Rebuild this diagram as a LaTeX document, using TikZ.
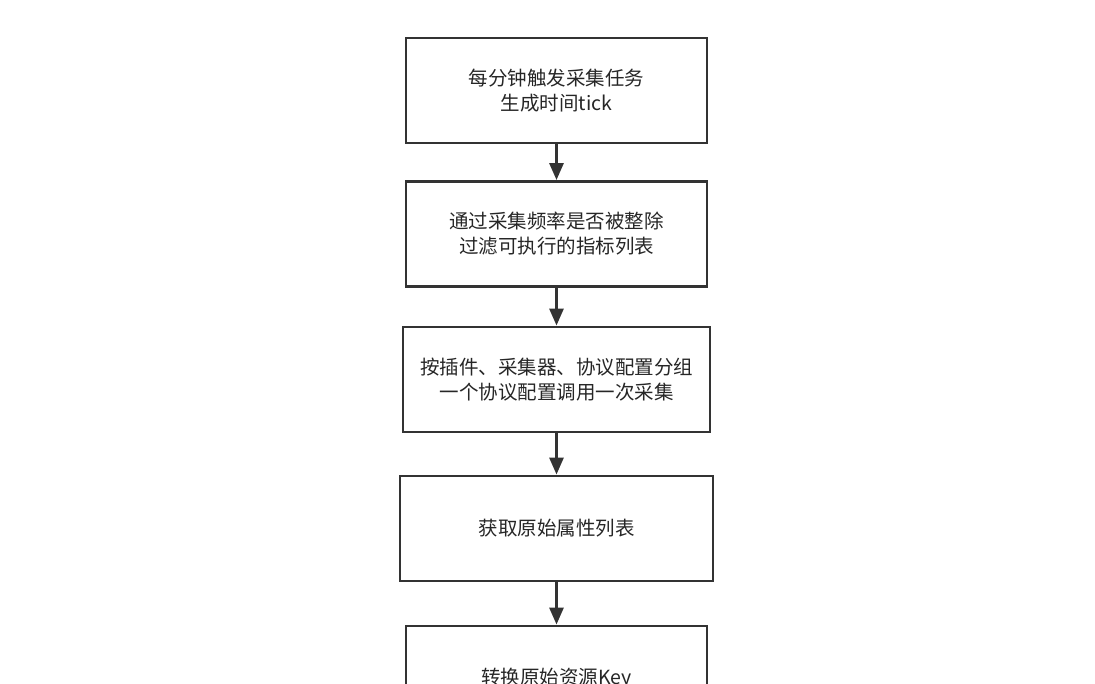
\documentclass[tikz,border=0pt]{standalone}
\usepackage{fontspec}
\setmainfont{Noto Sans CJK SC}
\usetikzlibrary{arrows.meta}
\begin{document}
\begin{tikzpicture}[x=1pt,y=-1pt,
  stepbox/.style={draw=black!80,line width=2.9pt,minimum height=105pt,align=center,
    font=\fontsize{19.5}{25}\selectfont,text=black!85,inner sep=0pt},
  flow/.style={draw=black!80,line width=2.9pt,-{Triangle[length=17pt,width=14pt]}}]
\useasboundingbox (0,0) rectangle (1095,684);
\node[stepbox,minimum width=301pt] (a) at (556.5,90.5) {每分钟触发采集任务\\生成时间tick};
\node[stepbox,minimum width=301pt] (b) at (556.5,234) {通过采集频率是否被整除\\过滤可执行的指标列表};
\node[stepbox,minimum width=307pt] (c) at (556.5,379.5) {按插件、采集器、协议配置分组\\一个协议配置调用一次采集};
\node[stepbox,minimum width=313pt] (d) at (556.5,528.5) {获取原始属性列表};
\node[stepbox,minimum width=301pt] (e) at (556.5,678.5) {转换原始资源Key};
\draw[flow] (a) -- (b);
\draw[flow] (b) -- (c);
\draw[flow] (c) -- (d);
\draw[flow] (d) -- (e);
\end{tikzpicture}
\end{document}
